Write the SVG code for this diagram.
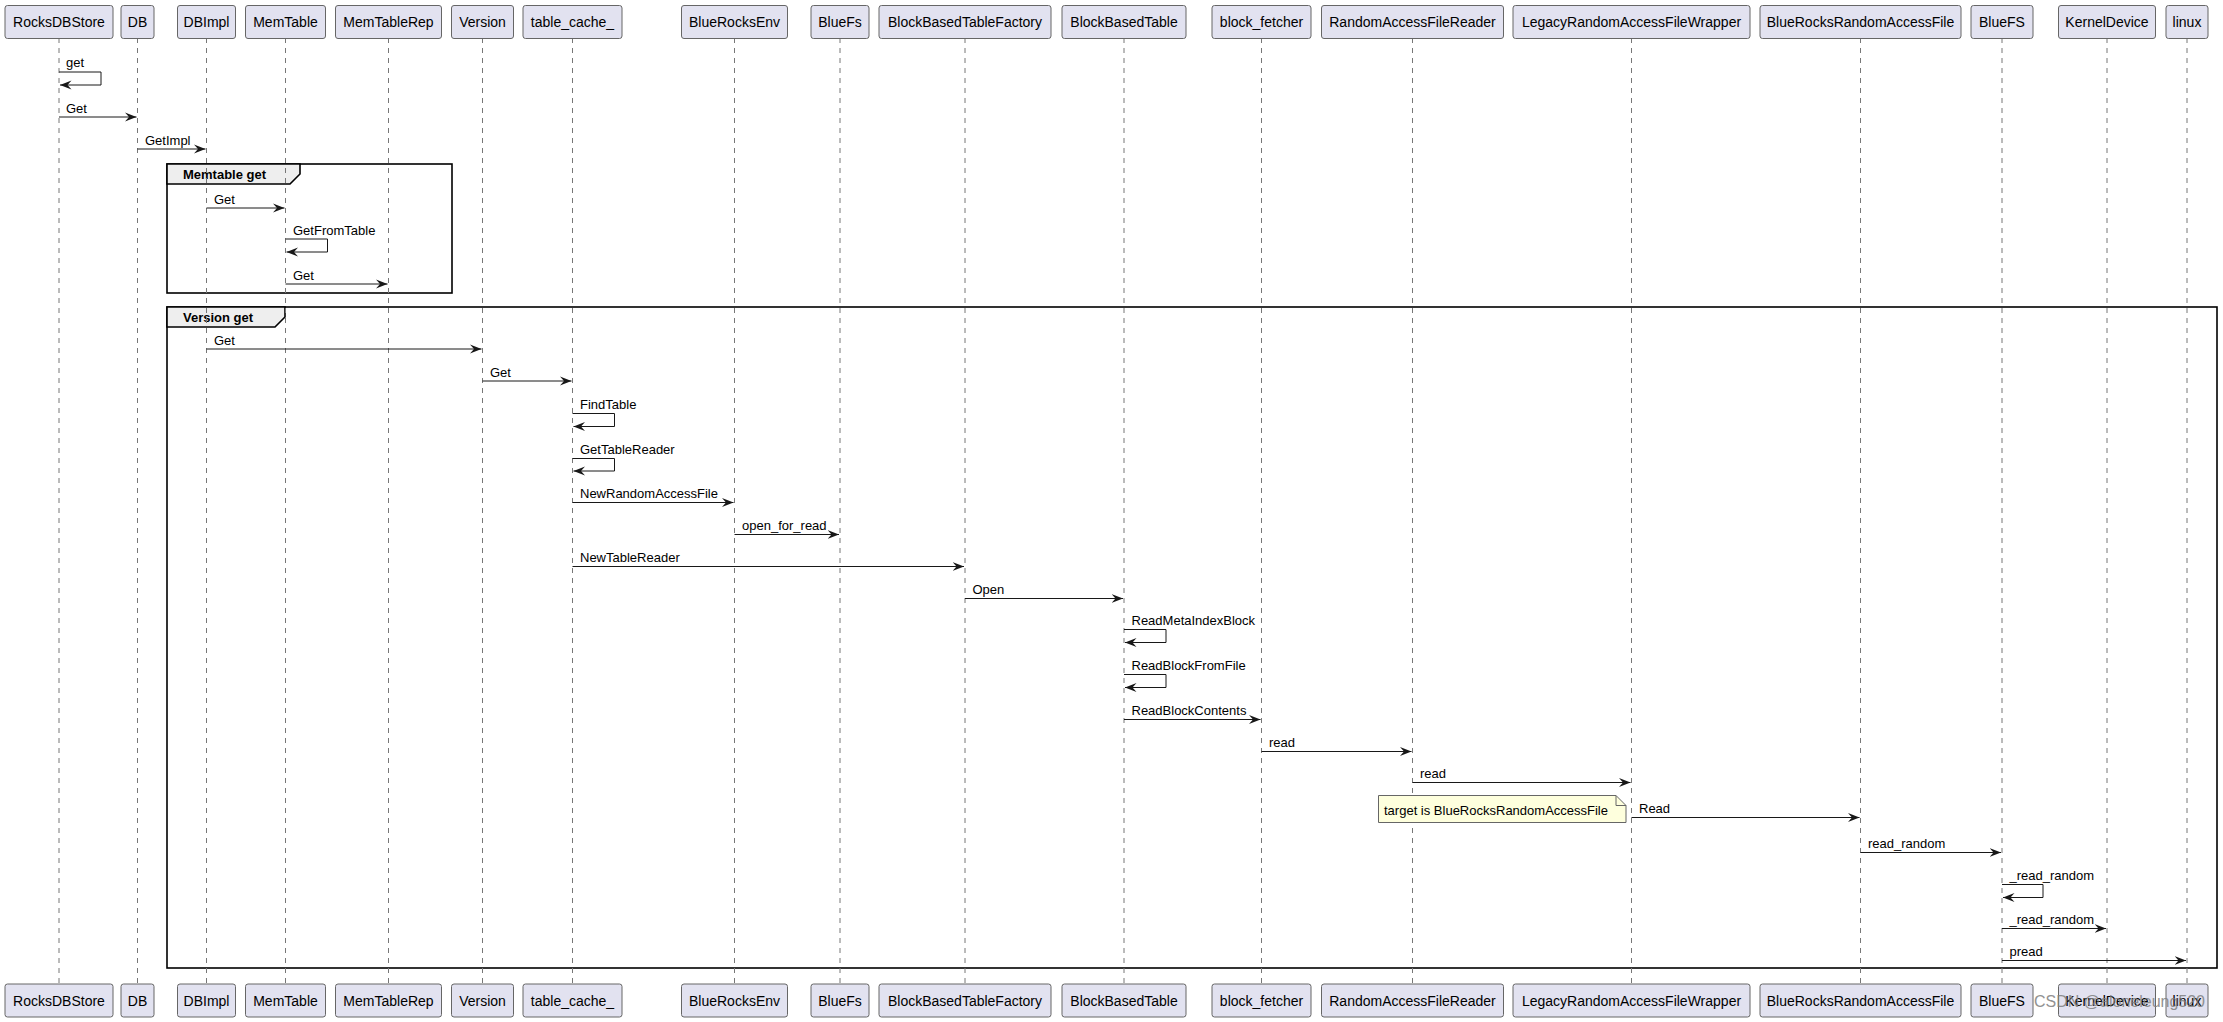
<svg xmlns="http://www.w3.org/2000/svg" width="2223" height="1022" viewBox="0 0 2223 1022">
<style>
text{font-family:"Liberation Sans",Arial,sans-serif;fill:#000}
.pbox{fill:#E2E2F0;stroke:#666;stroke-width:1}
.ptxt{font-size:14px;text-anchor:middle}
.life{stroke:#777;stroke-width:1;stroke-dasharray:5,5;fill:none}
.msg{stroke:#181818;stroke-width:1;fill:none;marker-end:url(#ah)}
.lbl{font-size:13px}
.frame{fill:none;stroke:#000;stroke-width:1.6}
.tab{fill:#EEEEEE;stroke:#000;stroke-width:1.6}
.ftitle{font-size:13px;font-weight:bold}
.note{fill:#FEFFDD;stroke:#666;stroke-width:1}
</style>
<defs>
<marker id="ah" viewBox="0 0 12 10" refX="11.5" refY="5" markerWidth="12" markerHeight="10" markerUnits="userSpaceOnUse" orient="auto">
<path d="M0,0.5 L11.5,5 L0,9.5 L4,5 Z" fill="#181818"/>
</marker>
</defs>
<rect width="2223" height="1022" fill="#fff"/>

<g id="frames">
<g id="frame-memtable">
<rect class="frame" x="167" y="164" width="285" height="129"/>
<path class="tab" d="M167,164 H300 V174 L290,184 H167 Z"/>
<text class="ftitle" x="183" y="179">Memtable get</text>
</g>
<g id="frame-version">
<rect class="frame" x="167" y="307" width="2050" height="661"/>
<path class="tab" d="M167,307 H285 V317 L275,327 H167 Z"/>
<text class="ftitle" x="183" y="321.5">Version get</text>
</g>
</g>

<g id="RocksDBStore"><line class="life" x1="59" y1="38" x2="59" y2="984"/><rect class="pbox" x="5" y="5.5" width="108" height="33" rx="2.5"/><text class="ptxt" x="59" y="27">RocksDBStore</text><rect class="pbox" x="5" y="984" width="108" height="33" rx="2.5"/><text class="ptxt" x="59" y="1005.5">RocksDBStore</text></g>
<g id="DB"><line class="life" x1="137.5" y1="38" x2="137.5" y2="984"/><rect class="pbox" x="121" y="5.5" width="33" height="33" rx="2.5"/><text class="ptxt" x="137.5" y="27">DB</text><rect class="pbox" x="121" y="984" width="33" height="33" rx="2.5"/><text class="ptxt" x="137.5" y="1005.5">DB</text></g>
<g id="DBImpl"><line class="life" x1="206.5" y1="38" x2="206.5" y2="984"/><rect class="pbox" x="177.5" y="5.5" width="58" height="33" rx="2.5"/><text class="ptxt" x="206.5" y="27">DBImpl</text><rect class="pbox" x="177.5" y="984" width="58" height="33" rx="2.5"/><text class="ptxt" x="206.5" y="1005.5">DBImpl</text></g>
<g id="MemTable"><line class="life" x1="285.5" y1="38" x2="285.5" y2="984"/><rect class="pbox" x="245.5" y="5.5" width="80" height="33" rx="2.5"/><text class="ptxt" x="285.5" y="27">MemTable</text><rect class="pbox" x="245.5" y="984" width="80" height="33" rx="2.5"/><text class="ptxt" x="285.5" y="1005.5">MemTable</text></g>
<g id="MemTableRep"><line class="life" x1="388.5" y1="38" x2="388.5" y2="984"/><rect class="pbox" x="335.5" y="5.5" width="106" height="33" rx="2.5"/><text class="ptxt" x="388.5" y="27">MemTableRep</text><rect class="pbox" x="335.5" y="984" width="106" height="33" rx="2.5"/><text class="ptxt" x="388.5" y="1005.5">MemTableRep</text></g>
<g id="Version"><line class="life" x1="482.5" y1="38" x2="482.5" y2="984"/><rect class="pbox" x="451.5" y="5.5" width="62" height="33" rx="2.5"/><text class="ptxt" x="482.5" y="27">Version</text><rect class="pbox" x="451.5" y="984" width="62" height="33" rx="2.5"/><text class="ptxt" x="482.5" y="1005.5">Version</text></g>
<g id="table_cache_"><line class="life" x1="572.5" y1="38" x2="572.5" y2="984"/><rect class="pbox" x="523" y="5.5" width="99" height="33" rx="2.5"/><text class="ptxt" x="572.5" y="27">table_cache_</text><rect class="pbox" x="523" y="984" width="99" height="33" rx="2.5"/><text class="ptxt" x="572.5" y="1005.5">table_cache_</text></g>
<g id="BlueRocksEnv"><line class="life" x1="734.5" y1="38" x2="734.5" y2="984"/><rect class="pbox" x="681.5" y="5.5" width="106" height="33" rx="2.5"/><text class="ptxt" x="734.5" y="27">BlueRocksEnv</text><rect class="pbox" x="681.5" y="984" width="106" height="33" rx="2.5"/><text class="ptxt" x="734.5" y="1005.5">BlueRocksEnv</text></g>
<g id="BlueFs"><line class="life" x1="840" y1="38" x2="840" y2="984"/><rect class="pbox" x="811" y="5.5" width="58" height="33" rx="2.5"/><text class="ptxt" x="840" y="27">BlueFs</text><rect class="pbox" x="811" y="984" width="58" height="33" rx="2.5"/><text class="ptxt" x="840" y="1005.5">BlueFs</text></g>
<g id="BlockBasedTableFactory"><line class="life" x1="965" y1="38" x2="965" y2="984"/><rect class="pbox" x="879" y="5.5" width="172" height="33" rx="2.5"/><text class="ptxt" x="965" y="27">BlockBasedTableFactory</text><rect class="pbox" x="879" y="984" width="172" height="33" rx="2.5"/><text class="ptxt" x="965" y="1005.5">BlockBasedTableFactory</text></g>
<g id="BlockBasedTable"><line class="life" x1="1124" y1="38" x2="1124" y2="984"/><rect class="pbox" x="1062" y="5.5" width="124" height="33" rx="2.5"/><text class="ptxt" x="1124" y="27">BlockBasedTable</text><rect class="pbox" x="1062" y="984" width="124" height="33" rx="2.5"/><text class="ptxt" x="1124" y="1005.5">BlockBasedTable</text></g>
<g id="block_fetcher"><line class="life" x1="1261.5" y1="38" x2="1261.5" y2="984"/><rect class="pbox" x="1212" y="5.5" width="99" height="33" rx="2.5"/><text class="ptxt" x="1261.5" y="27">block_fetcher</text><rect class="pbox" x="1212" y="984" width="99" height="33" rx="2.5"/><text class="ptxt" x="1261.5" y="1005.5">block_fetcher</text></g>
<g id="RandomAccessFileReader"><line class="life" x1="1412.5" y1="38" x2="1412.5" y2="984"/><rect class="pbox" x="1321.5" y="5.5" width="182" height="33" rx="2.5"/><text class="ptxt" x="1412.5" y="27">RandomAccessFileReader</text><rect class="pbox" x="1321.5" y="984" width="182" height="33" rx="2.5"/><text class="ptxt" x="1412.5" y="1005.5">RandomAccessFileReader</text></g>
<g id="LegacyRandomAccessFileWrapper"><line class="life" x1="1631.5" y1="38" x2="1631.5" y2="984"/><rect class="pbox" x="1513" y="5.5" width="237" height="33" rx="2.5"/><text class="ptxt" x="1631.5" y="27">LegacyRandomAccessFileWrapper</text><rect class="pbox" x="1513" y="984" width="237" height="33" rx="2.5"/><text class="ptxt" x="1631.5" y="1005.5">LegacyRandomAccessFileWrapper</text></g>
<g id="BlueRocksRandomAccessFile"><line class="life" x1="1860.5" y1="38" x2="1860.5" y2="984"/><rect class="pbox" x="1760" y="5.5" width="201" height="33" rx="2.5"/><text class="ptxt" x="1860.5" y="27">BlueRocksRandomAccessFile</text><rect class="pbox" x="1760" y="984" width="201" height="33" rx="2.5"/><text class="ptxt" x="1860.5" y="1005.5">BlueRocksRandomAccessFile</text></g>
<g id="BlueFS"><line class="life" x1="2002" y1="38" x2="2002" y2="984"/><rect class="pbox" x="1971" y="5.5" width="62" height="33" rx="2.5"/><text class="ptxt" x="2002" y="27">BlueFS</text><rect class="pbox" x="1971" y="984" width="62" height="33" rx="2.5"/><text class="ptxt" x="2002" y="1005.5">BlueFS</text></g>
<g id="KernelDevice"><line class="life" x1="2107" y1="38" x2="2107" y2="984"/><rect class="pbox" x="2058.5" y="5.5" width="97" height="33" rx="2.5"/><text class="ptxt" x="2107" y="27">KernelDevice</text><rect class="pbox" x="2058.5" y="984" width="97" height="33" rx="2.5"/><text class="ptxt" x="2107" y="1005.5">KernelDevice</text></g>
<g id="linux"><line class="life" x1="2187" y1="38" x2="2187" y2="984"/><rect class="pbox" x="2166" y="5.5" width="42" height="33" rx="2.5"/><text class="ptxt" x="2187" y="27">linux</text><rect class="pbox" x="2166" y="984" width="42" height="33" rx="2.5"/><text class="ptxt" x="2187" y="1005.5">linux</text></g>

<g id="note">
<path class="note" d="M1378.5,795.5 H1616 L1626,805.5 V822.5 H1378.5 Z"/>
<path d="M1616,795.5 V805.5 H1626" fill="none" stroke="#666" stroke-width="1"/>
<text class="lbl" x="1384" y="815">target is BlueRocksRandomAccessFile</text>
</g>

<g id="connectors">
<path class="msg" d="M59,72 H101 V85 H60"/><text class="lbl" x="66" y="67">get</text>
<path class="msg" d="M59,117 H136.5"/><text class="lbl" x="66" y="112.5">Get</text>
<path class="msg" d="M137.5,149 H205.5"/><text class="lbl" x="145" y="144.5">GetImpl</text>
<path class="msg" d="M206.5,208 H284.5"/><text class="lbl" x="214" y="203.5">Get</text>
<path class="msg" d="M285.5,239 H327.5 V252 H286.5"/><text class="lbl" x="293" y="234.5">GetFromTable</text>
<path class="msg" d="M285.5,284 H387.5"/><text class="lbl" x="293" y="279.5">Get</text>
<path class="msg" d="M206.5,349 H481.5"/><text class="lbl" x="214" y="344.5">Get</text>
<path class="msg" d="M482.5,381 H571.5"/><text class="lbl" x="490" y="376.5">Get</text>
<path class="msg" d="M572.5,413.5 H614.5 V426.5 H573.5"/><text class="lbl" x="580" y="409">FindTable</text>
<path class="msg" d="M572.5,458.5 H614.5 V471 H573.5"/><text class="lbl" x="580" y="454">GetTableReader</text>
<path class="msg" d="M572.5,502.5 H733.5"/><text class="lbl" x="580" y="498">NewRandomAccessFile</text>
<path class="msg" d="M734.5,534.5 H839"/><text class="lbl" x="742" y="530">open_for_read</text>
<path class="msg" d="M572.5,566.5 H964"/><text class="lbl" x="580" y="562">NewTableReader</text>
<path class="msg" d="M965,598.5 H1123"/><text class="lbl" x="972.5" y="594">Open</text>
<path class="msg" d="M1124,629.5 H1166 V642.5 H1125"/><text class="lbl" x="1131.5" y="625">ReadMetaIndexBlock</text>
<path class="msg" d="M1124,674.5 H1166 V687.5 H1125"/><text class="lbl" x="1131.5" y="670">ReadBlockFromFile</text>
<path class="msg" d="M1124,719.5 H1260.5"/><text class="lbl" x="1131.5" y="715">ReadBlockContents</text>
<path class="msg" d="M1261.5,751.5 H1411.5"/><text class="lbl" x="1269" y="747">read</text>
<path class="msg" d="M1412.5,782.5 H1630.5"/><text class="lbl" x="1420" y="778">read</text>
<path class="msg" d="M1631.5,817.5 H1859.5"/><text class="lbl" x="1639" y="813">Read</text>
<path class="msg" d="M1860.5,852.5 H2001"/><text class="lbl" x="1868" y="848">read_random</text>
<path class="msg" d="M2002,884.5 H2043 V897.5 H2003"/><text class="lbl" x="2009.5" y="880">_read_random</text>
<path class="msg" d="M2002,928.5 H2106"/><text class="lbl" x="2009.5" y="924">_read_random</text>
<path class="msg" d="M2002,960.5 H2186"/><text class="lbl" x="2009.5" y="956">pread</text>
</g>

<text x="2034" y="1007" style="font-size:16px;fill:#808080;opacity:0.85">CSDN @aloneleung520</text>
</svg>
